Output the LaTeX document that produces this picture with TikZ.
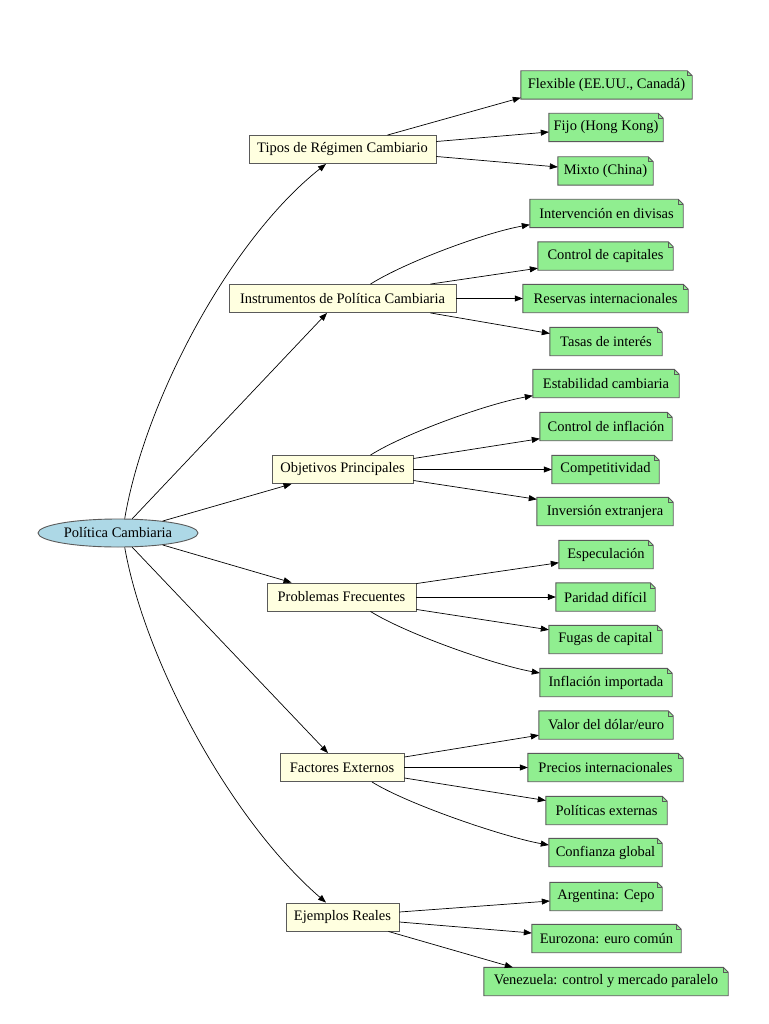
\documentclass[tikz,border=0pt]{standalone}
\usepackage{fontspec}
\setmainfont{Liberation Serif}
\usetikzlibrary{shapes.geometric,arrows.meta,backgrounds}
\definecolor{catfill}{HTML}{FFFFE0}
\definecolor{leaffill}{HTML}{90EE90}
\definecolor{rootfill}{HTML}{ADD8E6}
\definecolor{bordergray}{HTML}{5A5A5A}
\tikzset{
  lbl/.style={font=\fontsize{14.5pt}{17pt}\selectfont, text=black, inner sep=0pt, minimum height=28pt},
  rootnode/.style={lbl, ellipse, draw=bordergray, line width=0.9pt, fill=rootfill, minimum width=160pt},
  catbox/.style={lbl, rectangle, draw=bordergray, line width=0.9pt, fill=catfill},
  leafbox/.style={lbl, rectangle},
  notefill/.style={fill=leaffill, draw=bordergray, line width=0.9pt},
  conn/.style={draw=black, line width=0.7pt, -{Triangle[length=8pt,width=6pt]}},
}
\begin{document}
\begin{tikzpicture}[x=1pt,y=-1pt]
\useasboundingbox (0,0) rectangle (768,1024);
% root
\node[rootnode] (root) at (118,533) {Política Cambiaria};
% categories
\node[catbox, minimum width=187pt] (tipos) at (342.5,149.5) {Tipos de Régimen Cambiario};
\node[catbox, minimum width=227pt] (instr) at (342.5,298.5) {Instrumentos de Política Cambiaria};
\node[catbox, minimum width=141pt] (obj)   at (342.5,469.5) {Objetivos Principales};
\node[catbox, minimum width=149pt] (prob)  at (341.5,597)   {Problemas Frecuentes};
\node[catbox, minimum width=124pt] (fact)  at (342,767.5)   {Factores Externos};
\node[catbox, minimum width=113pt] (ejem)  at (342.5,917)   {Ejemplos Reales};
% leaves
\node[leafbox, minimum width=171pt] (flex)      at (606.5,85)    {Flexible (EE.UU., Canadá)};
\node[leafbox, minimum width=114pt] (fijo)      at (606,127.5)   {Fijo (Hong Kong)};
\node[leafbox, minimum width=95pt]  (mixto)     at (605.5,171)   {Mixto (China)};
\node[leafbox, minimum width=153pt] (interv)    at (606.5,213.5) {Intervención en divisas};
\node[leafbox, minimum width=135pt] (ctrlcap)   at (605.5,256)   {Control de capitales};
\node[leafbox, minimum width=165pt] (reservas)  at (605.5,298.5) {Reservas internacionales};
\node[leafbox, minimum width=112pt] (tasas)     at (606,341.5)   {Tasas de interés};
\node[leafbox, minimum width=146pt] (estab)     at (606,383.5)   {Estabilidad cambiaria};
\node[leafbox, minimum width=132pt] (ctrlinf)   at (606,426.5)   {Control de inflación};
\node[leafbox, minimum width=107pt] (compet)    at (605.5,469.5) {Competitividad};
\node[leafbox, minimum width=136pt] (invers)    at (605,511.5)   {Inversión extranjera};
\node[leafbox, minimum width=94pt]  (espec)     at (606,554.5)   {Especulación};
\node[leafbox, minimum width=99pt]  (paridad)   at (605.5,597)   {Paridad difícil};
\node[leafbox, minimum width=113pt] (fugas)     at (605.5,639.5) {Fugas de capital};
\node[leafbox, minimum width=132pt] (inflimp)   at (606,682.5)   {Inflación importada};
\node[leafbox, minimum width=134pt] (valor)     at (606,725)     {Valor del dólar/euro};
\node[leafbox, minimum width=155pt] (precios)   at (605.5,767.5) {Precios internacionales};
\node[leafbox, minimum width=121pt] (politicas) at (606.5,810.5) {Políticas externas};
\node[leafbox, minimum width=113pt] (confianza) at (605.5,852.5) {Confianza global};
\node[leafbox, minimum width=112pt] (argentina) at (606,896.5)   {Argentina: Cepo};
\node[leafbox, minimum width=149pt] (eurozona)  at (606.5,938.5) {Eurozona: euro común};
\node[leafbox, minimum width=244pt] (venezuela) at (606,981.5)   {Venezuela: control y mercado paralelo};
% note shapes behind leaf texts
\begin{pgfonlayer}{background}
\foreach \n in {flex,fijo,mixto,interv,ctrlcap,reservas,tasas,estab,ctrlinf,compet,invers,espec,paridad,fugas,inflimp,valor,precios,politicas,confianza,argentina,eurozona,venezuela}{
  \path[notefill] (\n.north west) -- ([xshift=-5pt]\n.north east) -- ([yshift=-5pt]\n.north east) -- (\n.south east) -- (\n.south west) -- cycle;
  \draw[bordergray, line width=0.6pt] ([xshift=-5pt]\n.north east) -- ([xshift=-5pt,yshift=-5pt]\n.north east) -- ([yshift=-5pt]\n.north east);
}
\end{pgfonlayer}
% root to categories
\draw[conn] (root.65) .. controls +(20,-118) and +(-96,76) .. ([xshift=-16.5pt]tipos.south);
\draw[conn] (root.45) -- ([xshift=-15.5pt]instr.south);
\draw[conn] (root.15) -- ([xshift=20pt]obj.south west);
\draw[conn] (root.-15) -- ([xshift=25pt]prob.north west);
\draw[conn] (root.-45) -- ([xshift=-14pt]fact.north);
\draw[conn] (root.-65) .. controls +(20,113) and +(-96,-83) .. ([xshift=-16.5pt]ejem.north);
% tipos
\draw[conn] ([xshift=45pt]tipos.north) -- ([yshift=1.5pt]flex.south west);
\draw[conn] ([yshift=8pt]tipos.east) -- ([yshift=-4.5pt]fijo.west);
\draw[conn] ([yshift=-7pt]tipos.east) -- ([yshift=4pt]mixto.west);
% instrumentos
\draw[conn] ([xshift=28pt]instr.north) .. controls +(35,-22) and +(-45,8) .. ([yshift=3pt]interv.south west);
\draw[conn] ([xshift=88pt]instr.north) -- ([yshift=2pt]ctrlcap.south west);
\draw[conn] (instr.east) -- (reservas.west);
\draw[conn] ([xshift=88pt]instr.south) -- ([yshift=8pt]tasas.west);
% objetivos
\draw[conn] ([xshift=28pt]obj.north) .. controls +(35,-22) and +(-45,8) .. ([yshift=2pt]estab.south west);
\draw[conn] ([yshift=11pt]obj.east) -- ([yshift=2pt]ctrlinf.south west);
\draw[conn] (obj.east) -- (compet.west);
\draw[conn] ([yshift=-11pt]obj.east) -- ([yshift=-2pt]invers.north west);
% problemas
\draw[conn] ([yshift=-1pt]prob.north east) -- ([yshift=6pt]espec.south west);
\draw[conn] (prob.east) -- (paridad.west);
\draw[conn] ([yshift=2pt]prob.south east) -- ([yshift=-4.5pt]fugas.north west);
\draw[conn] ([xshift=29pt]prob.south) .. controls +(35,22) and +(-45,-8) .. ([yshift=9.5pt]inflimp.west);
% factores
\draw[conn] ([yshift=10.5pt]fact.east) -- ([yshift=4pt]valor.south west);
\draw[conn] (fact.east) -- (precios.west);
\draw[conn] ([yshift=-10.5pt]fact.east) -- ([yshift=10pt]politicas.west);
\draw[conn] ([xshift=30pt]fact.south) .. controls +(35,22) and +(-45,-8) .. ([yshift=7.5pt]confianza.west);
% ejemplos
\draw[conn] ([yshift=5pt]ejem.east) -- ([yshift=-4.5pt]argentina.west);
\draw[conn] ([yshift=-5pt]ejem.east) -- ([yshift=5.5pt]eurozona.west);
\draw[conn] ([xshift=-11pt]ejem.south east) -- ([xshift=29pt]venezuela.north west);
\end{tikzpicture}
\end{document}
